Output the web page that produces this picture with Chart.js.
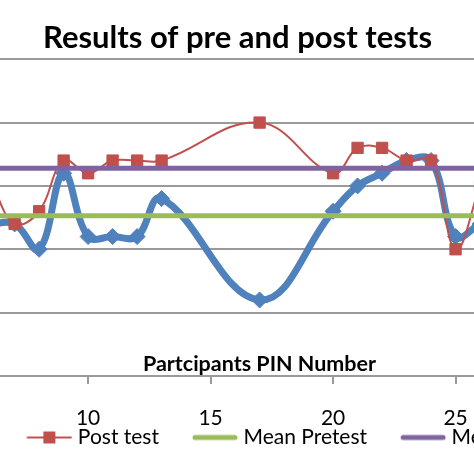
<!DOCTYPE html>
<html>
<head>
<meta charset="utf-8">
<script src="https://cdn.jsdelivr.net/npm/chart.js@4.4.1/dist/chart.umd.min.js"></script>
<style>
  html, body { margin: 0; padding: 0; background: #fff; overflow: hidden; }
  #wrap { position: absolute; left: -182.5px; top: 0; width: 814px; height: 474px; }
</style>
</head>
<body>
<div id="wrap"><canvas id="resultsChart" width="814" height="474"></canvas></div>
<script>
// Participant PIN numbers and their scores
const pins = [6, 7, 8, 9, 10, 11, 12, 13, 17, 20, 21, 22, 23, 24, 25, 26];
const preTest = [24, 24, 20, 32, 22, 22, 22, 28, 12, 26, 30, 32, 34, 34, 22, 24];
const postTest = [31, 24, 26, 34, 32, 34, 34, 34, 40, 32, 36, 36, 34, 34, 20, 30];
const meanPretest = 25.3;
const meanPosttest = 32.8;
const xTicks = [5, 10, 15, 20, 25, 30];
const yTicks = [0, 10, 20, 30, 40, 50];

const X_MIN = 2.157;
const X_MAX = 31.835;
const FONT = 'Lato';
const GRID = '#9a9a9a';

const toPoints = (ys) => pins.map((p, i) => ({ x: p, y: ys[i] }));
const flat = (v) => [{ x: X_MIN, y: v }, { x: X_MAX, y: v }];

// legend pictures: line with optional marker, wider than the legend box
function legendSymbol(color, lineWidth, marker) {
  const c = document.createElement('canvas');
  c.width = 84;
  c.height = 20;
  const g = c.getContext('2d');
  g.strokeStyle = color;
  g.fillStyle = color;
  g.lineWidth = lineWidth;
  g.lineCap = 'round';
  g.beginPath();
  if (marker === 'rect') {
    g.lineCap = 'butt';
    g.moveTo(38.5, 10);
    g.lineTo(83.5, 10);
  } else {
    g.moveTo(41, 10);
    g.lineTo(81, 10);
  }
  g.stroke();
  if (marker === 'rect') g.fillRect(55, 4, 12, 12);
  if (marker === 'rectRot') {
    g.beginPath();
    g.moveTo(61, 2); g.lineTo(69, 10); g.lineTo(61, 18); g.lineTo(53, 10);
    g.closePath();
    g.fill();
  }
  return c;
}

const symbols = [
  legendSymbol('#4F81BD', 6, 'rectRot'),
  legendSymbol('#C0504D', 2, 'rect'),
  legendSymbol('#9BBB59', 5),
  legendSymbol('#8064A2', 5)
];

// x axis title sits inside the plot, just above the axis line
const axisTitleInside = {
  id: 'axisTitleInside',
  afterDraw(chart) {
    const { ctx, chartArea } = chart;
    ctx.save();
    ctx.font = 'bold 21.5px ' + FONT;
    ctx.fillStyle = '#000';
    ctx.textAlign = 'center';
    ctx.textBaseline = 'alphabetic';
    ctx.fillText('Partcipants PIN Number', (chartArea.left + chartArea.right) / 2, chartArea.bottom - 5);
    ctx.restore();
  }
};

const ctx = document.getElementById('resultsChart').getContext('2d');
const resultsChart = new Chart(ctx, {
  type: 'line',
  data: {
    datasets: [{
      label: 'Pretest',
      data: toPoints(preTest),
      borderColor: '#4F81BD',
      backgroundColor: '#4F81BD',
      borderWidth: 7,
      pointStyle: 'rectRot',
      pointRadius: 8,
      pointBorderWidth: 1,
      tension: 0.4,
      order: 3
    }, {
      label: 'Post test',
      data: toPoints(postTest),
      borderColor: '#C0504D',
      backgroundColor: '#C0504D',
      borderWidth: 2,
      pointStyle: 'rect',
      pointRadius: 8,
      pointBorderWidth: 1,
      tension: 0.4,
      order: 2
    }, {
      label: 'Mean Pretest',
      data: flat(meanPretest),
      borderColor: '#9BBB59',
      borderWidth: 5,
      pointRadius: 0,
      order: 1
    }, {
      label: 'Mean Post test',
      data: flat(meanPosttest),
      borderColor: '#8064A2',
      borderWidth: 5,
      pointRadius: 0,
      order: 0
    }]
  },
  options: {
    responsive: false,
    animation: false,
    layout: { padding: { left: 25, right: 0, top: 0, bottom: 16 } },
    plugins: {
      title: {
        display: true,
        text: 'Results of pre and post tests',
        color: '#000',
        font: { family: FONT, size: 31, weight: 'bold' },
        padding: { top: 19, bottom: 3 }
      },
      legend: {
        position: 'bottom',
        align: 'start',
        labels: {
          usePointStyle: true,
          pointStyleWidth: 74,
          padding: 0,
          color: '#000',
          font: { family: FONT, size: 21 },
          sort: (a, b) => a.datasetIndex - b.datasetIndex,
          generateLabels: (chart) => {
            const items = Chart.defaults.plugins.legend.labels.generateLabels(chart);
            items.forEach((it) => { it.pointStyle = symbols[it.datasetIndex]; });
            return items;
          }
        }
      },
      tooltip: { enabled: false }
    },
    scales: {
      x: {
        type: 'linear',
        min: X_MIN,
        max: X_MAX,
        afterBuildTicks: (scale) => { scale.ticks = xTicks.map((v) => ({ value: v })); },
        afterFit: (scale) => { scale.height = 51; },
        grid: { drawOnChartArea: false, drawTicks: true, tickLength: 8, color: GRID, lineWidth: 2 },
        border: { color: GRID, width: 2 },
        ticks: { color: '#000', padding: 24, maxRotation: 0, font: { family: FONT, size: 21, lineHeight: 1 } }
      },
      y: {
        min: 0,
        max: 50,
        afterBuildTicks: (scale) => { scale.ticks = yTicks.map((v) => ({ value: v })); },
        afterFit: (scale) => { scale.width = 53; },
        ticks: { display: false },
        grid: { drawTicks: false, color: GRID, lineWidth: 2 },
        border: { display: false }
      }
    }
  },
  plugins: [axisTitleInside]
});
</script>
</body>
</html>
